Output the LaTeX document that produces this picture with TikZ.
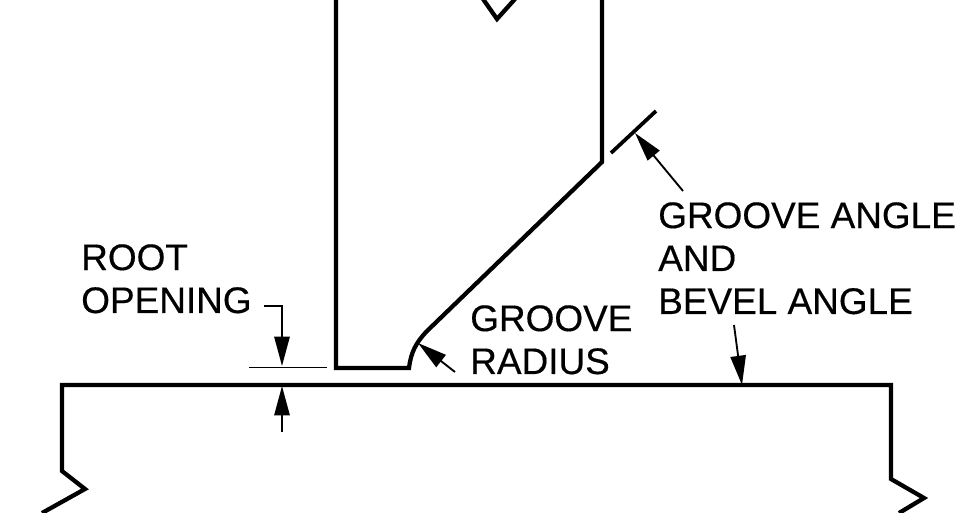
\documentclass[tikz,border=0pt]{standalone}
\usepackage{fontspec}
\setmainfont[FakeBold=0.4]{Liberation Sans}
\usetikzlibrary{arrows.meta}
\tikzset{
  thick line/.style={line width=3.2pt,line join=miter},
  thin line/.style={line width=1.2pt},
  leader/.style={line width=1.4pt,-{Triangle[length=22pt,width=11.5pt]}},
  label text/.style={anchor=north west,inner sep=0.75pt,align=left,font=\fontsize{27.7pt}{32.2pt}\selectfont},
}

\begin{document}
\begin{tikzpicture}[x=0.75pt,y=0.75pt,yscale=-1]
\useasboundingbox (0,0) rectangle (975,512);

%Upper member
\draw [thick line] (336,0) -- (336,368) -- (409,368) .. controls (411,352) and (416,343) .. (426,332) -- (602,162) -- (602,0);
%Weld symbol
\draw [thick line] (483,-1) -- (497,19) -- (515,-1);
%Lower member
\draw [thick line] (42,513) -- (85,489) -- (62,471) -- (62,385) -- (891,385) -- (891,479) -- (924,498) -- (899,513);
%Ticks
\draw [line width=2.8pt] (611,153) -- (656,111);
\draw [thin line] (249,367.5) -- (327,367.5);

% Text Node
\node (rootOpening) at (80,243) [label text] {ROOT\\OPENING};
% Text Node
\node (grooveRadius) at (469,304) [label text] {GROOVE\\RADIUS};
% Text Node
\node (grooveAngle) at (657,201) [label text] {GROOVE ANGLE\\AND\\BEVEL ANGLE};

%Arrows
\coordinate (rootStart) at (264,306);
\coordinate (rootBend) at (282,306);
\coordinate (rootTip) at (282,366);
\coordinate (rootLowStart) at (282,432);
\coordinate (rootLowTip) at (282,386);
\coordinate (radiusStart) at (455,372);
\coordinate (radiusTip) at (418,343);
\coordinate (angleStart) at (683,191);
\coordinate (angleTip) at (635,133);
\coordinate (bevelStart) at (734,325);
\coordinate (bevelTip) at (742,385);
\draw [leader] (rootStart) -- (rootBend) -- (rootTip);
\draw [leader] (rootLowStart) -- (rootLowTip);
\draw [leader] (radiusStart) -- (radiusTip);
\draw [leader] (angleStart) -- (angleTip);
\draw [leader] (bevelStart) -- (bevelTip);

\end{tikzpicture}
\end{document}
